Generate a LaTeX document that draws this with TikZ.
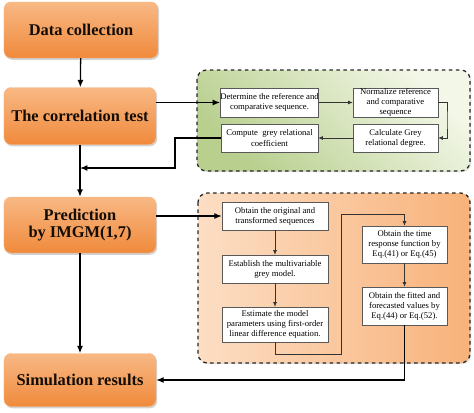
\documentclass[tikz,border=0pt]{standalone}
\usepackage{fontspec}
\setmainfont{Liberation Serif}
\usepackage{xcolor}
\usetikzlibrary{arrows.meta,positioning,shadows}

\definecolor{stepor}{RGB}{240,138,60}
\definecolor{stepol}{RGB}{248,184,132}
\definecolor{grnd}{RGB}{184,207,142}
\definecolor{grnl}{RGB}{243,247,232}
\definecolor{pchd}{RGB}{248,178,122}
\definecolor{pchl}{RGB}{252,222,196}

\begin{document}
\begin{tikzpicture}[
  x=0.03cm, y=-0.03cm,
  mainbox/.style={draw=stepor!60!white, rounded corners=6pt, align=center,
              font=\fontsize{14}{15}\selectfont\bfseries, inner sep=0pt,
              top color=stepol, bottom color=stepor, minimum width=4.56cm,
              text=black!90!brown,
              drop shadow={opacity=0.35, shadow xshift=1pt, shadow yshift=-1.5pt}},
  sub/.style={draw=black!65, fill=white, align=center, inner sep=0pt,
              font=\fontsize{7.4}{8.6}\selectfont},
  frame/.style={draw=black!85, dashed, line width=1.1pt, rounded corners=8pt,
              drop shadow={opacity=0.25, shadow xshift=1pt, shadow yshift=-1pt}},
  arrow/.style={-{Latex[length=2.2mm, width=1.8mm]}, line width=1.1pt},
  link/.style={-{Latex[length=1.4mm, width=1.2mm]}, line width=0.6pt, black!80}
]
\useasboundingbox (0,0) rectangle (474,412);

% dashed frames
\draw[frame, left color=grnd, right color=grnl, shading angle=135]
  (197,70) rectangle (470,171);
\draw[frame, left color=pchl, right color=pchd]
  (198,193) rectangle (470,363);

% main steps
\node[mainbox, minimum width=4.62cm, minimum height=1.68cm] (data) at (81,30) {Data collection};
\node[mainbox, minimum height=1.71cm] (corr) at (80,116) {The correlation test};
\node[mainbox, minimum height=1.68cm] (pred) at (80,225) {Prediction\\by IMGM(1,7)};
\node[mainbox, minimum height=1.59cm] (sim) at (80,380) {Simulation results};

% grey relational analysis
\node[sub, minimum width=2.91cm, minimum height=0.87cm] (det) at (269.5,102.5)
  {Determine the reference and\\comparative sequence.};
\node[sub, minimum width=2.55cm, minimum height=0.87cm] (norm) at (395.5,102.5)
  {Normalize reference\\and comparative\\sequence};
\node[sub, minimum width=2.91cm, minimum height=0.84cm] (comp) at (269.5,138)
  {Compute\ \ grey relational\\coefficient};
\node[sub, minimum width=2.55cm, minimum height=0.84cm] (calc) at (395.5,138)
  {Calculate Grey\\relational degree.};

% IMGM(1,7) steps
\node[sub, minimum width=3.18cm, minimum height=0.84cm] (orig) at (275,216)
  {Obtain the original and\\transformed sequences};
\node[sub, minimum width=3.18cm, minimum height=0.84cm] (est) at (275,269)
  {Establish the multivariable\\grey model.};
\node[sub, minimum width=3.18cm, minimum height=1.05cm] (estim) at (275,324.5)
  {Estimate the model\\parameters using first-order\\linear difference equation.};
\node[sub, minimum width=2.55cm, minimum height=1.11cm] (time) at (404.5,244.5)
  {Obtain the time\\response function by\\Eq.(41) or Eq.(45)};
\node[sub, minimum width=2.55cm, minimum height=1.14cm] (fit) at (404.5,306)
  {Obtain the fitted and\\forecasted values by\\Eq.(44) or Eq.(52).};

\coordinate (j1) at (80,168);
\coordinate (c1) at (175,168);
\coordinate (r1) at (447,120);
\coordinate (b1) at (341,354);
\coordinate (b2) at (341,214);

% connectors
\draw[arrow] (data) -- (corr);
\draw[arrow] (corr) -- (pred);
\draw[arrow] (pred) -- (sim);
\draw[arrow] (corr.east |- det.west) -- (det.west);
\draw[arrow] (comp.west) -| (c1) -- (j1);
\draw[arrow] (pred.east |- orig.west) -- (orig.west);
\draw[arrow] (fit.south) |- (sim.east);

\draw[link] (det) -- (norm);
\draw[link] (norm.east) -| (r1) |- (calc.east);
\draw[link] (calc) -- (comp);
\draw[link] (orig) -- (est);
\draw[link] (est) -- (estim);
\draw[link] (estim.south) |- (b1) -- (b2) -| (time.north);
\draw[link] (time) -- (fit);
\end{tikzpicture}
\end{document}
